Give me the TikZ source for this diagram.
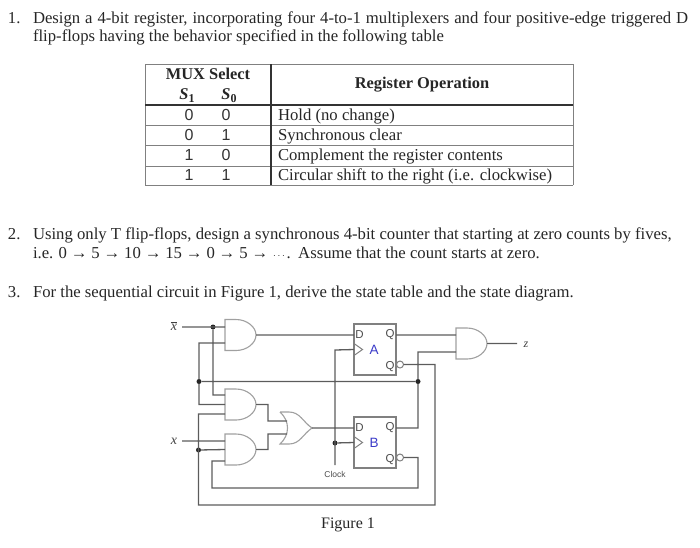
\documentclass[tikz,border=0pt]{standalone}
\usepackage{amsmath}
\usepackage{fontspec}
\setmainfont{Liberation Serif}
\setsansfont{Liberation Sans}
\usetikzlibrary{%
  positioning
}
\definecolor{wirecol}{HTML}{5C5C5C}
\definecolor{gatecol}{HTML}{A0A0A0}
\definecolor{rulecol}{HTML}{808080}
\definecolor{namecol}{HTML}{3A3AC8}
\tikzstyle{fig}=[x=1pt,y=-1pt,inner sep=0pt,outer sep=0pt]
\tikzstyle{txt}=[anchor=base west,font=\fontsize{16.7}{18}\selectfont,text=black!85]
\tikzstyle{hd}=[font=\fontsize{16.4}{18}\selectfont\bfseries,text=black!85]
\tikzstyle{bit}=[font=\sffamily\fontsize{16}{18}\selectfont,text=black!80]
\tikzstyle{thin rule}=[draw=rulecol,line width=1pt]
\tikzstyle{thick rule}=[draw=black!80,line width=1.6pt]
\tikzstyle{wire}=[draw=wirecol,line width=1.3pt]
\tikzstyle{gateline}=[draw=gatecol,line width=1.1pt]
\tikzstyle{andg}=[rectangle,draw=none,minimum width=31pt,minimum height=31pt]
\tikzstyle{org}=[rectangle,draw=none,minimum width=32pt,minimum height=32pt]
\tikzstyle{ff}=[rectangle,draw=rulecol,line width=1.4pt,minimum width=42pt,minimum height=51pt]
\tikzstyle{dot}=[circle,fill=black!85,minimum size=5pt]
\tikzstyle{bub}=[circle,draw=rulecol,fill=white,line width=1pt,minimum size=7pt]
\tikzstyle{pin}=[font=\sffamily\fontsize{11.5}{13}\selectfont,text=black!70]
\tikzstyle{ffname}=[font=\sffamily\fontsize{13.5}{15}\selectfont,text=namecol]
\tikzstyle{sig}=[font=\fontsize{14}{15}\selectfont\itshape,text=black!75]
\newcommand{\selsub}[1]{\textit{S}{\fontsize{12}{12}\selectfont\raisebox{-3pt}{#1}}}
\begin{document}
\begin{tikzpicture}[fig]
      \useasboundingbox (0,0) rectangle (700,547);
      \node[txt] (t_1) at (8,23) {1.};
      \node[txt] (t_2) at (33,23) {\spaceskip=4.92pt Design a 4-bit register, incorporating four 4-to-1 multiplexers and four positive-edge triggered D};
      \node[txt] (t_3) at (33,41) {flip-flops having the behavior specified in the following table};
      \node[txt] (t_4) at (8,239) {2.};
      \node[txt] (t_5) at (33,239) {Using only T flip-flops, design a synchronous 4-bit counter that starting at zero counts by fives,};
      \node[txt] (t_6) at (33,258) {{\spaceskip=3.87pt i.e. 0 → 5 → 10 → 15 → 0 → 5 →}\hspace{5pt}{\fontsize{10}{10}\selectfont$\cdots$}.\hspace{7.5pt}Assume that the count starts at zero.};
      \node[txt] (t_7) at (8,297) {3.};
      \node[txt] (t_8) at (33,297) {For the sequential circuit in Figure 1, derive the state table and the state diagram.};
      \foreach \y in {64,125,145,166,185}
        \draw[thin rule] (145,\y) -- (573,\y);
      \foreach \x in {145,573}
        \draw[thin rule] (\x,64) -- (\x,185);
      \draw[thick rule] (145,105) -- (573,105);
      \draw[thick rule] (271,64) -- (271,185);
      \node[hd] (h_1) at (208,74) {MUX Select};
      \node[hd] (h_2) at (187,96) {\selsub{1}};
      \node[hd] (h_3) at (229,96) {\selsub{0}};
      \node[hd] (h_4) at (422,85) {Register Operation};
      \foreach \y/\a/\b/\op in {115/0/0/Hold (no change),
                                135/0/1/Synchronous clear,
                                155/1/0/Complement the register contents,
                                175/1/1/Circular shift to the right (i.e. clockwise)} {
        \node[bit] at (189,\y) {\a};
        \node[bit] at (226,\y) {\b};
        \node[txt] at (278,\y+5) {\op};
      }
      \node[andg] (a_1) at (240.5,335) {};
      \node[andg] (a_2) [below of=a_1,node distance=69.5pt] {};
      \node[andg] (a_3) [below of=a_2,node distance=45pt] {};
      \node[andg] (a_4) at (471.5,343.5) {};
      \node[org] (o_1) at (296,428) {};
      \foreach \g in {a_1,a_2,a_3,a_4}
        \draw[gateline] (\g.north west) -- ([xshift=11pt]\g.north west)
          .. controls +(11,0) and +(0,-8) .. (\g.east)
          .. controls +(0,8) and +(11,0) .. ([xshift=11pt]\g.south west)
          -- (\g.south west) -- cycle;
      \draw[gateline] (o_1.north west) -- ([xshift=9pt]o_1.north west)
          .. controls +(11,0) and +(-9,-6) .. (o_1.east)
          .. controls +(-9,6) and +(11,0) .. ([xshift=9pt]o_1.south west)
          -- (o_1.south west) .. controls +(10,-9) and +(10,9) .. (o_1.north west);
      \node[ff] (f_a) at (375,349.5) {};
      \node[ff] (f_b) [below of=f_a,node distance=93pt] {};
      \foreach \f/\n in {a/A,b/B} {
        \coordinate (k_\f) at (f_\f.west);
        \draw[draw=rulecol,line width=1pt] ([yshift=6pt]k_\f) -- ([xshift=8.5pt]k_\f) -- ([yshift=-6pt]k_\f);
        \node[ffname] (n_\f) at ([xshift=-1pt]f_\f.center) {\n};
        \node[pin] (d_\f) at ([xshift=5.5pt,yshift=14.5pt]f_\f.west) {D};
        \node[pin] (q_\f) at ([xshift=-6pt,yshift=14.5pt]f_\f.east) {Q};
        \node[pin] (p_\f) at ([xshift=-6pt,yshift=-17.5pt]f_\f.east) {Q};
        \node[bub] (b_\f) at ([xshift=4pt,yshift=-15pt]f_\f.east) {};
      }
      \node[pin,font=\sffamily\fontsize{8.5}{10}\selectfont] (clk) at (335,474) {Clock};
      \node[sig] (l_x) at (174,441) {x};
      \node[sig] (l_n) at (174,326) {$\overline{\textit{x}}$};
      \node[sig,font=\fontsize{12}{13}\selectfont\itshape] (l_z) at (526,345) {z};
      \node[txt,anchor=center,font=\fontsize{16}{18}\selectfont] (cap) at (348,525) {Figure 1};
      \node[dot] (j_1) at (213,327) {};
      \node[dot] (j_2) at (199,381.5) {};
      \node[dot] (j_3) at (418,381.5) {};
      \node[dot] (j_4) at (198.5,450) {};
      \node[dot] (j_5) at (335,443) {};
      \coordinate (w_1) at (182,327);
      \coordinate (w_2) at (182,441);
      \coordinate (w_3) at (517,343.5);
      \coordinate (c_1) at (335,350);
      \coordinate (c_2) at (335,465);
      \coordinate (m_1) at (268,421);
      \coordinate (m_2) at (268,434);
      \coordinate (r_1) at (435,505);
      \coordinate (r_2) at (198.5,505);
      \coordinate (r_3) at (418,488);
      \coordinate (r_4) at (212,488);
      \coordinate (i_11) at ([yshift=8pt]a_1.west);
      \coordinate (i_12) at ([yshift=-8pt]a_1.west);
      \coordinate (i_21) at ([yshift=9.5pt]a_2.west);
      \coordinate (i_22) at (a_2.west);
      \coordinate (i_23) at ([yshift=-9.5pt]a_2.west);
      \coordinate (i_31) at ([yshift=8.5pt]a_3.west);
      \coordinate (i_32) at (a_3.west);
      \coordinate (i_33) at ([yshift=-11.5pt]a_3.west);
      \coordinate (i_41) at ([yshift=8.5pt]a_4.west);
      \coordinate (i_42) at ([yshift=-8.5pt]a_4.west);
      \coordinate (i_51) at ([xshift=7pt,yshift=7pt]o_1.west);
      \coordinate (i_52) at ([xshift=7pt,yshift=-6pt]o_1.west);
      \coordinate (s_a) at ([yshift=14.5pt]f_a.east);
      \coordinate (s_b) at ([yshift=14.5pt]f_b.east);
      \coordinate (e_a) at ([yshift=14.5pt]f_a.west);
      \coordinate (e_b) at ([yshift=14.5pt]f_b.west);
      \path[wire]
        (w_1) -- (i_11)
        (j_1) |- (i_21)
        (i_12) -| (j_2)
        (j_2) |- (i_22)
        (j_2) -- (j_3)
        (a_1.east) -- (e_a)
        (s_a) -- (i_41)
        (i_42) -| (j_3)
        (j_3) |- (s_b)
        (a_4.east) -- (w_3)
        (a_2.east) -| (m_1) -- (i_51)
        (a_3.east) -| (m_2) -- (i_52)
        (o_1.east) -- (e_b)
        (w_2) -- (i_31)
        (j_4) -- (i_32)
        (i_23) -| (r_2) -- (r_1) |- (b_a.east)
        (i_33) -| (r_4) -- (r_3) |- (b_b.east)
        (k_a) -- (c_1) -- (c_2)
        (j_5) -- (k_b);
\end{tikzpicture}
\end{document}
